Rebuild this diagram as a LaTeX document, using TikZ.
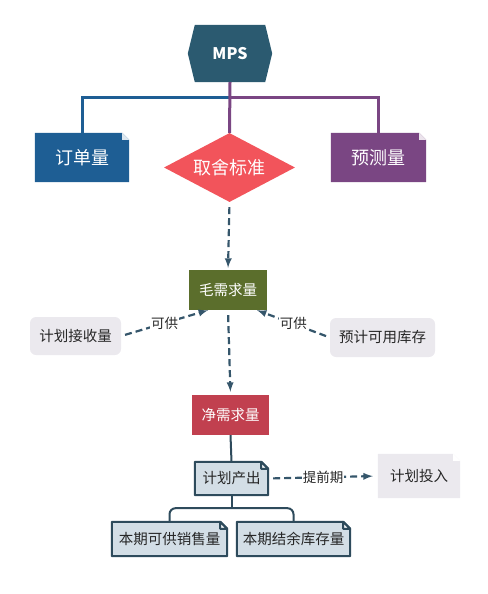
\documentclass[tikz,border=0pt]{standalone}
\usepackage{fontspec}
\newfontfamily\cjk{Noto Sans CJK SC}
\usetikzlibrary{arrows,shapes.geometric}
\pgfdeclarelayer{background}
\pgfsetlayers{background,main}
\definecolor{mpsblue}{HTML}{2B5A70}
\definecolor{ordblue}{HTML}{1E5E94}
\definecolor{forepurple}{HTML}{7A4683}
\definecolor{rulered}{HTML}{F2545B}
\definecolor{grossgreen}{HTML}{5B6E2C}
\definecolor{netred}{HTML}{C1404F}
\definecolor{softgray}{HTML}{EBE9EE}
\definecolor{planfill}{HTML}{D3DEE6}
\definecolor{planline}{HTML}{2E4B5C}
\definecolor{flowline}{HTML}{35566B}
\tikzset{
  txt/.style={font=\cjk\fontsize{#1}{#1}\selectfont, inner sep=0pt},
  solidbox/.style={fill=#1, text=white, minimum width=78pt, minimum height=40pt},
  softbox/.style={fill=softgray, rounded corners=6pt, text=black!85},
  flow/.style={draw=flowline, line width=2.2pt, dash pattern=on 7pt off 4pt, -latex},
  flowlbl/.style={txt=13.5, fill=white, inner sep=1pt, text=black!85},
}
% folded note shape drawn behind a node
\newcommand{\notebox}[3]{%
  \begin{pgfonlayer}{background}
    \path[#2] (#1.south west) -- (#1.north west) -- ([xshift=-7pt]#1.north east)
      -- ([yshift=-7pt]#1.north east) -- (#1.south east) -- cycle;
    \path[#2, fill=#3] ([xshift=-7pt]#1.north east) -- ([xshift=-7pt,yshift=-7pt]#1.north east)
      -- ([yshift=-7pt]#1.north east) -- cycle;
  \end{pgfonlayer}}

\begin{document}
\begin{tikzpicture}[x=1pt, y=-1pt]
\useasboundingbox (0,0) rectangle (487,594);
% MPS hexagon
\node[txt=16, text=white, minimum width=84pt, minimum height=57pt] (mps) at (230,53.5) {\bfseries MPS};
\begin{pgfonlayer}{background}
\fill[mpsblue] (mps.west) -- ([xshift=7pt]mps.north west) -- ([xshift=-7pt]mps.north east)
  -- (mps.east) -- ([xshift=-7pt]mps.south east) -- ([xshift=7pt]mps.south west) -- cycle;
\end{pgfonlayer}
% second row
\node[txt=18, text=white, minimum width=94pt, minimum height=49pt] (order) at (82,157.5) {订单量};
\notebox{order}{fill=ordblue}{white!85!ordblue}
\node[txt=18, text=white, diamond, aspect=1.9, fill=rulered, minimum width=131pt, minimum height=69pt] (rule) at (229.5,167.5) {取舍标准};
\node[txt=18, text=white, minimum width=95pt, minimum height=49pt] (fore) at (378.5,157.5) {预测量};
\notebox{fore}{fill=forepurple}{white!85!forepurple}
% tree lines from MPS
\coordinate (split) at ([yshift=-15pt]mps.south);
\draw[ordblue, line width=3pt] (split) -| (order.north);
\draw[forepurple, line width=3pt] (split) -| (fore.north);
\draw[forepurple, line width=3pt] (mps.south) -- (rule.north);
% gross requirement and its inputs
\node[txt=14.5, solidbox=grossgreen] (gross) at (228,290) {毛需求量};
\node[txt=14.5, softbox, minimum width=91pt, minimum height=38pt] (recv) at (75.5,336) {计划接收量};
\node[txt=14.5, softbox, minimum width=105pt, minimum height=39pt] (avail) at (382.5,337.5) {预计可用库存};
\draw[flow, shorten <=5pt, shorten >=2pt] (rule.south) -- (gross.north);
\draw[flow, shorten <=4pt] (recv.east) -- ([xshift=-20pt]gross.south) node[midway, flowlbl] {可供};
\draw[flow, shorten <=4pt] (avail.west) -- ([xshift=29pt]gross.south) node[midway, flowlbl] {可供};
% net requirement
\node[txt=14.5, solidbox=netred, minimum width=77pt] (net) at (230.5,415) {净需求量};
\draw[flow, shorten <=5pt, shorten >=3pt] (gross.south) -- (net.north);
% planned output
\node[txt=14.5, text=black!85, minimum width=73pt, minimum height=33pt] (plan) at (231.5,478.5) {计划产出};
\notebox{plan}{fill=planfill, draw=planline, line width=2pt, line join=round}{white!70!planfill}
\node[txt=14.5, text=black!85, minimum width=82pt, minimum height=44pt] (input) at (419,476) {计划投入};
\notebox{input}{fill=softgray}{white}
\draw[planline, line width=2pt] (net.south) -- (plan.north);
\draw[flow, shorten <=5pt, shorten >=5pt] (plan.east) -- (input.west) node[midway, flowlbl] {提前期};
% split of planned output
\node[txt=14.5, text=black!85, minimum width=115pt, minimum height=34pt] (sale) at (169.5,539) {本期可供销售量};
\notebox{sale}{fill=planfill, draw=planline, line width=2pt, line join=round}{white!70!planfill}
\node[txt=14.5, text=black!85, minimum width=113pt, minimum height=34pt] (stock) at (293.5,539) {本期结余库存量};
\notebox{stock}{fill=planfill, draw=planline, line width=2pt, line join=round}{white!70!planfill}
\coordinate (fork) at ([yshift=-13pt]plan.south);
\draw[planline, line width=2pt] (plan.south) -- (fork);
\draw[planline, line width=2pt, rounded corners=6pt] (sale.north) |- (fork) -| (stock.north);
\end{tikzpicture}
\end{document}
